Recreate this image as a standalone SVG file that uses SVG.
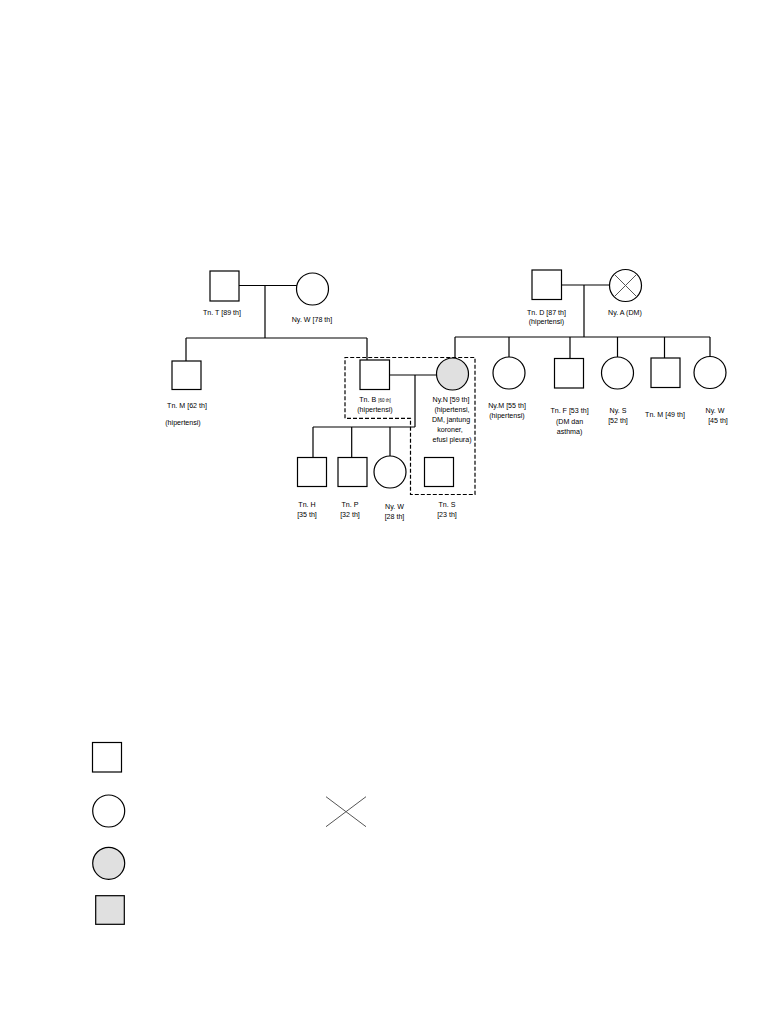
<svg xmlns="http://www.w3.org/2000/svg" width="768" height="1024" viewBox="0 0 768 1024">
<style>
.n{fill:#fff;stroke:#000;stroke-width:1.2}
.a{fill:#e0e0e0;stroke:#000;stroke-width:1.2}
.c{fill:none;stroke:#000;stroke-width:1.2}
.d{fill:none;stroke:#000;stroke-width:1.2;stroke-dasharray:4 2}
.x{stroke:#555;stroke-width:1}
text{font-family:"Liberation Sans",Arial,sans-serif;font-size:7.1px;fill:#000;text-anchor:middle}
.s{font-size:4.5px}
</style>
<rect width="768" height="1024" fill="#fff"/>
<g id="connectors">
<path class="c" d="M239,285.5H297M265,285.5V338M186,338H367M186,338V361M367,338V360"/>
<path class="c" d="M561.5,285H609.5M584,285V337M455,337H710M455,337V358M509,337V357M570,337V358M617.5,337V357M664.5,337V358M710,337V357"/>
<path class="c" d="M389,375H437M415,375V427M313,427H415M313,427V457M351.7,427V457M390,427V456"/>
</g>
<g id="famgroup">
<path class="d" d="M345,418.3V357.5H475V494.5H410.5V418.3Z"/>
</g>
<g id="tnT"><rect class="n" x="210" y="271" width="29" height="30"/><text x="222" y="315">Tn. T [89 th]</text></g>
<g id="nyW1"><circle class="n" cx="312.5" cy="289" r="16"/><text x="312" y="322">Ny. W [78 th]</text></g>
<g id="tnD"><rect class="n" x="532" y="270" width="29.5" height="29.5"/><text x="546.5" y="314.5">Tn. D [87 th]</text><text x="546.5" y="324">(hipertensi)</text></g>
<g id="nyA"><circle class="n" cx="625.5" cy="285.5" r="16"/><path class="x" d="M614.2,274.2L636.8,296.8M636.8,274.2L614.2,296.8"/><text x="625" y="315">Ny. A (DM)</text></g>
<g id="tnM1"><rect class="n" x="172" y="361" width="29" height="28.5"/><text x="187" y="408">Tn. M [62 th]</text><text x="183" y="425">(hipertensi)</text></g>
<g id="tnB"><rect class="n" x="360" y="360" width="29.5" height="29.5"/><text x="375" y="402">Tn. B <tspan class="s">[60 th]</tspan></text><text x="375" y="412">(hipertensi)</text></g>
<g id="nyN"><circle class="a" cx="452.5" cy="374" r="16"/><text x="451" y="402">Ny.N  [59 th]</text><text x="452" y="412">(hipertensi,</text><text x="451" y="422">DM, jantung</text><text x="450" y="431.5">koroner,</text><text x="452" y="441.5">efusi pleura)</text></g>
<g id="nyM"><circle class="n" cx="509" cy="373" r="16"/><text x="507" y="407.5">Ny.M [55 th]</text><text x="507" y="417.5">(hipertensi)</text></g>
<g id="tnF"><rect class="n" x="554.5" y="358.5" width="29" height="29.5"/><text x="569.5" y="413">Tn. F [53 th]</text><text x="569.5" y="423.5">(DM dan</text><text x="569.5" y="433.5">asthma)</text></g>
<g id="nyS"><circle class="n" cx="617.5" cy="373" r="16"/><text x="618" y="412.5">Ny. S</text><text x="618" y="423">[52 th]</text></g>
<g id="tnM2"><rect class="n" x="651" y="358" width="29" height="29.5"/><text x="665" y="417">Tn. M [49 th]</text></g>
<g id="nyW2"><circle class="n" cx="710" cy="372.5" r="16"/><text x="715" y="412.5">Ny. W</text><text x="718" y="423">[45 th]</text></g>
<g id="tnH"><rect class="n" x="297.5" y="457.5" width="29" height="29"/><text x="307" y="507">Tn. H</text><text x="307" y="517">[35 th]</text></g>
<g id="tnP"><rect class="n" x="338" y="457.5" width="29" height="29"/><text x="350" y="507">Tn. P</text><text x="350" y="517">[32 th]</text></g>
<g id="nyW3"><circle class="n" cx="390" cy="472" r="16"/><text x="394.5" y="508.5">Ny. W</text><text x="394.5" y="518.5">[28 th]</text></g>
<g id="tnS"><rect class="n" x="424.5" y="457.5" width="29" height="29"/><text x="447" y="507">Tn. S</text><text x="447" y="517">[23 th]</text></g>
<g id="legend">
<rect class="n" x="92.5" y="742.5" width="29" height="29.5"/>
<circle class="n" cx="108.7" cy="811" r="16"/>
<circle class="a" cx="108.7" cy="863.3" r="16"/>
<rect class="a" x="95.7" y="895.7" width="28.6" height="28.6"/>
<path class="x" d="M326,796.7L366,826.7M326,826.7L366,796.7"/>
</g>
</svg>
